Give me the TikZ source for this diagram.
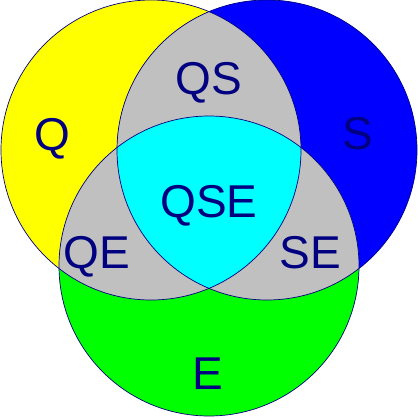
\documentclass[tikz,border=0pt]{standalone}
\usepackage{fontspec}
\setmainfont{Liberation Sans}
\usepackage{tikz}

\tikzset{
  setfill/.style={draw=none},
  setedge/.style={draw=navyblue, line width=0.7pt},
  setlabel/.style={anchor=base, text=navyblue, inner sep=0pt,
    font=\fontsize{46}{50}\selectfont}
}
\definecolor{navyblue}{HTML}{000080}
\definecolor{setyellow}{HTML}{FFFF00}
\definecolor{setblue}{HTML}{0000FF}
\definecolor{setgreen}{HTML}{00FF00}
\definecolor{setgray}{HTML}{C0C0C0}
\definecolor{setcyan}{HTML}{00FFFF}

\begin{document}
\begin{tikzpicture}[x=1pt, y=-1pt]
  \def\r{150}
  \useasboundingbox (0,0) rectangle (418,418);

  % Circle centres ---------------------------------------------------------
  \coordinate (cq) at (151,150);
  \coordinate (cs) at (267,150);
  \coordinate (ce) at (209,266);

  % Single sets -------------------------------------------------------------
  \fill[setyellow] (cq) circle (\r);
  \fill[setblue]   (cs) circle (\r);
  \fill[setgreen]  (ce) circle (\r);

  % Pairwise overlaps -------------------------------------------------------
  \begin{scope}
    \clip (cq) circle (\r);
    \fill[setgray] (cs) circle (\r);
    \fill[setgray] (ce) circle (\r);
  \end{scope}
  \begin{scope}
    \clip (cs) circle (\r);
    \fill[setgray] (ce) circle (\r);
  \end{scope}

  % Triple overlap ----------------------------------------------------------
  \begin{scope}
    \clip (cq) circle (\r);
    \clip (cs) circle (\r);
    \fill[setcyan] (ce) circle (\r);
  \end{scope}

  % Outlines ----------------------------------------------------------------
  \draw[setedge] (cq) circle (\r);
  \draw[setedge] (cs) circle (\r);
  \draw[setedge] (ce) circle (\r);

  % Labels ------------------------------------------------------------------
  \node[setlabel] (q)   at (52,150)  {Q};
  \node[setlabel] (s)   at (358,149) {S};
  \node[setlabel] (e)   at (208,389) {E};
  \node[setlabel] (qs)  at (209,94)  {QS};
  \node[setlabel] (qe)  at (97,268)  {QE};
  \node[setlabel] (se)  at (310,268) {SE};
  \node[setlabel] (qse) at (209,217) {QSE};

\end{tikzpicture}
\end{document}
